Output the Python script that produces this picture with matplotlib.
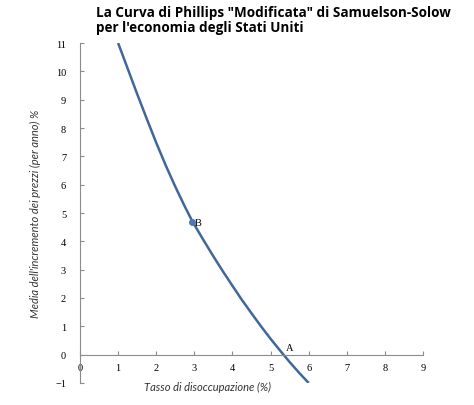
import matplotlib
matplotlib.use("Agg")
import matplotlib.pyplot as plt
import numpy as np

unemployment = [1.0, 1.25, 1.5, 1.75, 2.0, 2.25, 2.5, 2.75, 2.95, 3.25, 3.5,
                3.75, 4.0, 4.25, 4.5, 4.75, 5.0, 5.25, 5.5, 5.75, 6.0]
inflation = [11.0, 10.1, 9.2, 8.33, 7.48, 6.68, 5.93, 5.23, 4.7, 4.02, 3.47,
             2.94, 2.43, 1.93, 1.46, 1.0, 0.56, 0.145, -0.26, -0.64, -1.0]
point_b = (2.95, 4.7)
label_a_pos = (5.49, 0.25)
x_ticks = list(range(0, 10))
y_ticks = list(range(-1, 12))

title = 'La Curva di Phillips "Modificata" di Samuelson-Solow\nper l\'economia degli Stati Uniti'
xlabel = "Tasso di disoccupazione (%)"
ylabel = "Media dell'incremento dei prezzi (per anno) %"

fig = plt.figure(figsize=(4.74, 4.06), dpi=100)
ax = fig.add_axes([0.1688, 0.0542, 0.7236, 0.8374])

line_color = "#41679a"
ax.plot(unemployment, inflation, color=line_color, lw=1.8, solid_capstyle="butt",
        solid_joinstyle="round")
ax.plot([point_b[0]], [point_b[1]], "o", color="#4f78b0", ms=4)
ax.text(point_b[0] + 0.07, point_b[1] - 0.05, "B", family="Liberation Serif",
        fontsize=7.5, va="center", ha="left")
ax.text(label_a_pos[0], label_a_pos[1], "A", family="Liberation Serif",
        fontsize=7.5, va="center", ha="center")

ax.set_xlim(0, 9)
ax.set_ylim(-1, 11)
for s in ["top", "right"]:
    ax.spines[s].set_visible(False)
ax.spines["left"].set_position(("data", 0))
ax.spines["bottom"].set_position(("data", 0))
ax.spines["left"].set_color("#8c8c8c")
ax.spines["bottom"].set_color("#8c8c8c")
ax.spines["left"].set_linewidth(0.8)
ax.spines["bottom"].set_linewidth(0.8)

ax.set_xticks(x_ticks)
ax.set_yticks(y_ticks)
ax.tick_params(axis="x", direction="in", length=3, color="#8c8c8c", pad=6,
               labelsize=7.5)
ax.tick_params(axis="y", direction="in", length=3, color="#8c8c8c", pad=10,
               labelsize=7.5)
for lab in ax.get_xticklabels() + ax.get_yticklabels():
    lab.set_family("Liberation Serif")

fig.text(96 / 474, 1 - 6 / 406, title, fontsize=9.75, fontweight="bold",
         family="Open Sans", ha="left", va="top", linespacing=1.1)
fig.text(208 / 474, 1 - 387 / 406, xlabel, fontsize=8, style="italic",
         family="Lato", ha="center", va="center", color="#333333")
fig.text(35 / 474, 1 - 214 / 406, ylabel, fontsize=8, style="italic",
         family="Lato", ha="center", va="center", rotation=90,
         color="#333333")

fig.savefig("out.png", dpi=100, facecolor="white")
